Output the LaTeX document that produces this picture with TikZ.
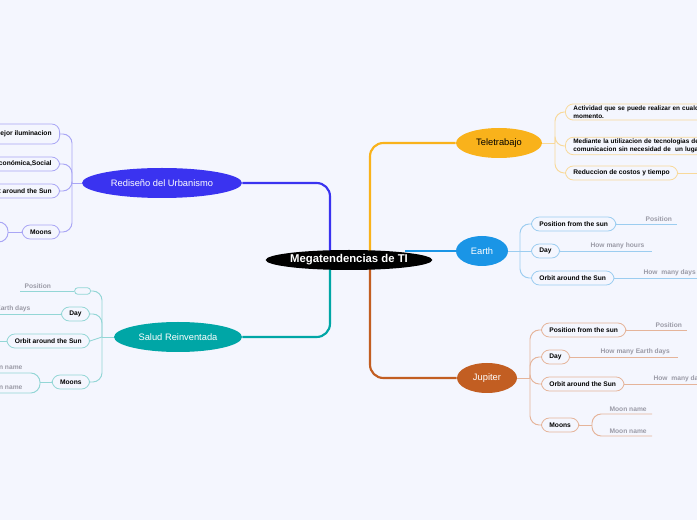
\documentclass[tikz,border=0pt]{standalone}
\usepackage{fontspec}
\setmainfont{Liberation Sans}
\usetikzlibrary{shapes.geometric}
\definecolor{bg}{HTML}{F4F6FE}
\definecolor{cyel}{HTML}{F9B21B}
\definecolor{lyel}{HTML}{F8D99A}
\definecolor{cblu}{HTML}{1A95E6}
\definecolor{lblu}{HTML}{9CCDF0}
\definecolor{cora}{HTML}{C25E22}
\definecolor{lora}{HTML}{E5B49A}
\definecolor{cind}{HTML}{3A33F0}
\definecolor{lind}{HTML}{A9A6F5}
\definecolor{ctea}{HTML}{00A6A6}
\definecolor{ltea}{HTML}{93D6D6}
\definecolor{gtxt}{HTML}{9A9AA6}
\tikzset{
 main/.style={ellipse, fill=#1, text=white, font=\fontsize{7}{8}\selectfont, inner sep=0pt},
 kid/.style={draw=#1, fill=bg, rounded corners=6, line width=0.6pt, font=\bfseries\fontsize{5}{6}\selectfont, minimum height=10.5pt, inner xsep=6pt, inner ysep=1.5pt, text=black},
 gl/.style={font=\bfseries\fontsize{5}{6}\selectfont, text=gtxt, inner sep=1pt, anchor=south west},
 br/.style={draw=#1, line width=1.6pt, rounded corners=10},
 tw/.style={draw=#1, line width=0.7pt, rounded corners=7},
}
\begin{document}
\begin{tikzpicture}[x=0.75pt,y=-0.75pt]
\fill[bg] (0,0) rectangle (697,520);
\clip (0,0) rectangle (697,520);
% main nodes
\node[main=cyel, minimum width=64.5pt, minimum height=22.5pt, text=black] (tel) at (499,143) {Teletrabajo};
\node[main=cblu, minimum width=39pt, minimum height=22.5pt] (ear) at (482,251) {Earth};
\node[main=cora, minimum width=45pt, minimum height=22.5pt] (jup) at (487,378) {Jupiter};
\node[main=cind, minimum width=120pt, minimum height=22.5pt] (red) at (162,183) {Rediseño del Urbanismo};
\node[main=ctea, minimum width=96pt, minimum height=22.5pt] (sal) at (178,337) {Salud Reinventada};
% branches
\coordinate (cr) at (370,260); \coordinate (cl) at (330,260);
\draw[br=cyel] (cr) |- (tel.west);
\draw[br=cblu, line width=0.8pt] (405,251) -- (ear.west);
\draw[br=cora] (cr) |- (jup.west);
\draw[br=cind] (cl) |- (red.east);
\draw[br=ctea] (cl) |- (sal.east);
\node[ellipse, fill=black, text=white, font=\bfseries\fontsize{8.5}{10}\selectfont, minimum width=120pt, minimum height=15pt, inner sep=0pt] (c) at (349,260) {Megatendencias de TI};
% Teletrabajo
\node[kid=lyel, anchor=west, text width=150pt, align=left, font=\bfseries\fontsize{4.8}{5.6}\selectfont] (t1) at (565,112) {Actividad que se puede realizar en cualquier lugar y\\momento.};
\node[kid=lyel, anchor=west, text width=150pt, align=left, font=\bfseries\fontsize{4.8}{5.6}\selectfont] (t2) at (565,146) {Mediante la utilizacion de tecnologias de la\\comunicacion sin necesidad de \ un lugar};
\node[kid=lyel, anchor=west] (t3) at (565,173) {Reduccion de costos y tiempo};
\coordinate (th) at (555,143);
\draw[tw=lyel] (tel.east) -- (th);
\draw[tw=lyel] (th) |- (t1.west); \draw[tw=lyel] (th) |- (t2.west); \draw[tw=lyel] (th) |- (t3.west);
\coordinate (t3e) at (697,173); \draw[tw=lyel] (t3.east) -- (t3e);
% Earth
\node[kid=lblu, anchor=west] (e1) at (531,224) {Position from the sun};
\node[kid=lblu, anchor=west] (e2) at (531,251) {Day};
\node[kid=lblu, anchor=west] (e3) at (531,278) {Orbit around the Sun};
\coordinate (eh) at (520,251);
\draw[tw=lblu] (ear.east) -- (eh);
\draw[tw=lblu] (eh) |- (e1.west); \draw[tw=lblu] (eh) -- (e2.west); \draw[tw=lblu] (eh) |- (e3.west);
\coordinate (e1e) at (677,224); \coordinate (e2e) at (652,251); \coordinate (e3e) at (697,278);
\draw[tw=lblu] (e1.east) -- (e1e); \draw[tw=lblu] (e2.east) -- (e2e); \draw[tw=lblu] (e3.east) -- (e3e);
\node[gl] (e1l) at (644,223) {Position};
\node[gl] (e2l) at (589,250) {How many hours};
\node[gl] (e3l) at (642,277) {How \ many days};
% Jupiter
\node[kid=lora, anchor=west] (j1) at (541,330) {Position from the sun};
\node[kid=lora, anchor=west] (j2) at (541,357) {Day};
\node[kid=lora, anchor=west] (j3) at (541,384) {Orbit around the Sun};
\node[kid=lora, anchor=west] (j4) at (541,425) {Moons};
\coordinate (jh) at (530,378);
\draw[tw=lora] (jup.east) -- (jh);
\draw[tw=lora] (jh) |- (j1.west); \draw[tw=lora] (jh) |- (j2.west); \draw[tw=lora] (jh) |- (j3.west); \draw[tw=lora] (jh) |- (j4.west);
\coordinate (j1e) at (687,330); \coordinate (j2e) at (678,357); \coordinate (j3e) at (697,384);
\draw[tw=lora] (j1.east) -- (j1e); \draw[tw=lora] (j2.east) -- (j2e); \draw[tw=lora] (j3.east) -- (j3e);
\node[gl] (j1l) at (654,329) {Position};
\node[gl] (j2l) at (599,356) {How many Earth days};
\node[gl] (j3l) at (652,383) {How \ many days};
\coordinate (mh) at (592,425); \coordinate (m1) at (652,414); \coordinate (m2) at (652,436);
\draw[tw=lora] (j4.east) -- (mh); \draw[tw=lora] (mh) |- (m1); \draw[tw=lora] (mh) |- (m2);
\node[gl] (m1l) at (608,413) {Moon name};
\node[gl] (m2l) at (608,435) {Moon name};
% Redisenio
\node[kid=lind, anchor=east, minimum height=15pt] (r1) at (60,134) {Mejor iluminacion};
\node[kid=lind, anchor=east] (r2) at (60,164) {Sostenibilidad Económica,Social};
\node[kid=lind, anchor=east] (r3) at (60,191) {Orbit around the Sun};
\node[kid=lind, anchor=east] (r4) at (60,232) {Moons};
\coordinate (rh) at (72,183);
\draw[tw=lind] (red.west) -- (rh);
\draw[tw=lind] (rh) |- (r1.east); \draw[tw=lind] (rh) |- (r2.east); \draw[tw=lind] (rh) |- (r3.east); \draw[tw=lind] (rh) |- (r4.east);
\coordinate (rmh) at (8,232); \coordinate (rm1) at (-20,222); \coordinate (rm2) at (-20,242);
\draw[tw=lind] (r4.west) -- (rmh); \draw[tw=lind] (rmh) |- (rm1); \draw[tw=lind] (rmh) |- (rm2);
% Salud
\node[kid=ltea, anchor=east, minimum height=5pt, inner xsep=6pt, rounded corners=2.5] (s1) at (91,291) {};
\node[kid=ltea, anchor=east] (s2) at (90,314) {Day};
\node[kid=ltea, anchor=east] (s3) at (90,341) {Orbit around the Sun};
\node[kid=ltea, anchor=east] (s4) at (90,382) {Moons};
\coordinate (sh) at (102,337);
\draw[tw=ltea] (sal.west) -- (sh);
\draw[tw=ltea] (sh) |- (s1.east); \draw[tw=ltea] (sh) |- (s2.east); \draw[tw=ltea] (sh) -- (s3.east); \draw[tw=ltea] (sh) |- (s4.east);
\coordinate (s1e) at (20,291); \coordinate (s2e) at (-30,314); \coordinate (s3e) at (-10,341);
\draw[tw=ltea] (s1.west) -- (s1e); \draw[tw=ltea] (s2.west) -- (s2e); \draw[tw=ltea] (s3.west) -- (s3e);
\node[gl] (s1l) at (23,290) {Position};
\node[gl, anchor=south east] (s2l) at (32,313) {How many Earth days};
\coordinate (smh) at (40,382); \coordinate (sm1) at (-20,373); \coordinate (sm2) at (-20,393);
\draw[tw=ltea] (s4.west) -- (smh); \draw[tw=ltea] (smh) |- (sm1); \draw[tw=ltea] (smh) |- (sm2);
\node[gl, anchor=south east] (sm1l) at (24,371) {Moon name};
\node[gl, anchor=south east] (sm2l) at (24,391) {Moon name};
\end{tikzpicture}
\end{document}
